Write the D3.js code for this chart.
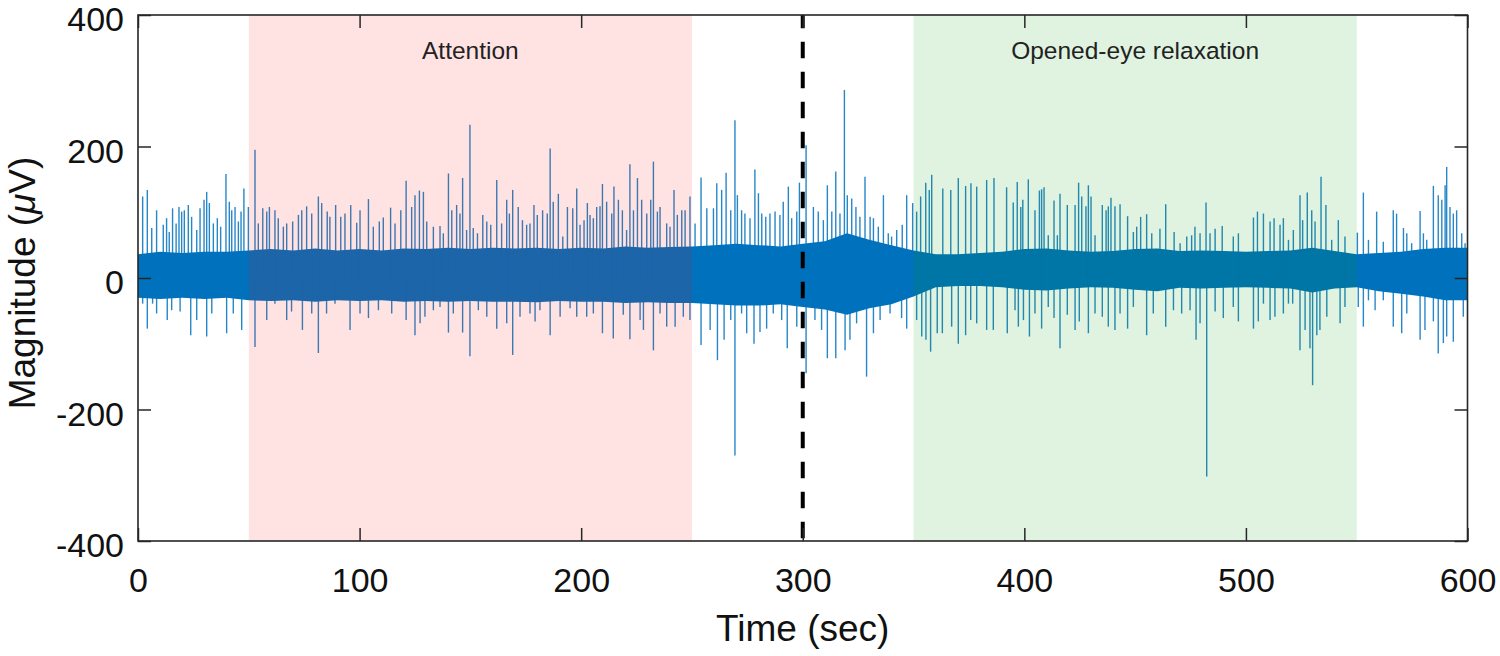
<!DOCTYPE html>
<html>
<head>
<meta charset="utf-8">
<script src="https://cdn.jsdelivr.net/npm/d3@7"></script>
<style>
	html, body { margin: 0; padding: 0; background: #fff; }
	svg { display: block; font-family: "Liberation Sans", Arial, sans-serif; }
</style>
</head>
<body>
<svg id="chart" width="1500" height="656"></svg>
<script>
// Axis ticks
var xTicks = [0, 100, 200, 300, 400, 500, 600];
var yTicks = [-400, -200, 0, 200, 400];

// Shaded task periods (sec)
var periodStart = [50, 350];
var periodEnd = [250, 550];
var periodLabel = ['Attention', 'Opened-eye relaxation'];

// Marker between the two sessions (sec)
var markerTime = 300;

// Dense part of the EEG trace, read every 10 s (µV)
var coreTime = d3.range(0, 601, 10);
var coreHi = [36, 40, 38, 40, 40, 42, 44, 42, 45, 42, 44, 42, 45, 44, 46, 44, 46, 45, 46, 44,
	46, 45, 48, 46, 47, 48, 50, 52, 50, 48, 52, 56, 68, 58, 50, 42, 36, 36, 38, 40,
	44, 45, 42, 40, 41, 44, 45, 41, 42, 41, 40, 41, 42, 46, 41, 36, 38, 40, 44, 46, 46];
var coreLo = [-30, -32, -30, -32, -30, -34, -35, -34, -36, -34, -35, -34, -36, -35, -36, -35, -36, -36, -37, -35,
	-36, -36, -38, -37, -38, -38, -40, -42, -42, -40, -44, -48, -56, -46, -40, -28, -14, -12, -12, -14,
	-18, -19, -16, -14, -15, -18, -20, -15, -16, -15, -14, -15, -16, -22, -16, -14, -20, -24, -28, -34, -34];

// Positive peaks [sec, µV]
var spikeUp = [[2.1, 124], [4.2, 134], [6.2, 76], [8.4, 103], [11.4, 81], [12.9, 91], [14.1, 70], [15.6, 106], [17.2, 83], [18.5, 108], [19.7, 101], [20.9, 103], [22.7, 111], [24.2, 93], [26.5, 73], [28.0, 106], [29.8, 119], [31.0, 131], [32.2, 114], [34.0, 83], [35.8, 91], [37.3, 78], [39.7, 158], [41.2, 116], [42.3, 103], [43.8, 108], [45.3, 86], [46.5, 101], [47.8, 136], [49.8, 108],
	[52.8, 195], [54.3, 83], [56.3, 106], [58.1, 101], [59.3, 108], [61.8, 103], [63.3, 91], [65.6, 78], [67.1, 83], [69.8, 86], [72.4, 96], [73.9, 103], [76.1, 109], [78.4, 98], [81.4, 124], [82.9, 114], [85.4, 101], [86.6, 93], [89.2, 111], [91.5, 93], [93.4, 98], [96.0, 111], [98.7, 84], [100.2, 103], [104.0, 120], [106.2, 78], [108.9, 86], [110.7, 92], [114.0, 107], [116.0, 83], [118.6, 103], [121.0, 148], [123.5, 108], [125.0, 126], [127.0, 133], [128.8, 131], [130.3, 86],
	[133.3, 78], [136.3, 79], [137.8, 68], [140.1, 159], [141.6, 103], [143.8, 111], [145.3, 98], [146.5, 152], [148.3, 73], [149.8, 233], [151.3, 76], [153.2, 68], [155.6, 96], [157.4, 86], [159.2, 81], [161.9, 149], [164.1, 83], [166.4, 119], [167.6, 98], [169.1, 134], [171.6, 108], [173.5, 88], [175.4, 81], [176.9, 83], [178.7, 111], [180.2, 96], [182.6, 103], [184.7, 98], [186.0, 197], [187.4, 116], [189.7, 128], [191.7, 63], [193.8, 108], [196.2, 106], [198.0, 136], [199.5, 81],
	[201.3, 88], [202.8, 114], [204.0, 96], [205.5, 91], [207.0, 108], [208.5, 109], [209.6, 143], [211.5, 116], [213.8, 98], [214.8, 139], [216.8, 119], [218.6, 103], [220.5, 73], [222.0, 173], [223.6, 103], [225.4, 152], [227.3, 119], [229.6, 98], [231.4, 119], [232.6, 177], [234.4, 101], [235.6, 108], [238.6, 83], [240.1, 78], [241.9, 134], [243.4, 96], [245.4, 103], [246.9, 103], [249.1, 124], [251.4, 83], [254.1, 153], [256.7, 106], [259.7, 106], [261.2, 144],
	[263.4, 134], [265.4, 160], [267.5, 103], [269.4, 240], [270.5, 126], [272.4, 103], [273.9, 98], [276.2, 91], [278.4, 165], [280.0, 129], [281.5, 98], [283.3, 93], [285.2, 98], [287.5, 101], [289.7, 96], [291.2, 116], [293.5, 139], [295.0, 91], [297.3, 101], [298.5, 145], [301.5, 202], [304.8, 108], [307.0, 101], [309.3, 88], [311.1, 141], [313.1, 101], [314.9, 162], [316.8, 98], [318.8, 286], [320.1, 126], [322.1, 121], [324.0, 108], [325.8, 93], [328.1, 154], [330.4, 93], [331.9, 91], [334.1, 78], [336.4, 126], [338.6, 68], [340.1, 63], [342.4, 73], [344.9, 81], [346.9, 126], [349.6, 114],
	[351.4, 101], [353.2, 124], [355.5, 145], [357.1, 134], [358.2, 157], [363.2, 136], [366.8, 134], [370.2, 152], [373.5, 140], [375.9, 144], [378.5, 139], [383.0, 149], [386.3, 152], [392.0, 138], [395.0, 115], [396.8, 146], [398.4, 108], [399.3, 119], [401.8, 150], [404.8, 103], [406.8, 133], [407.8, 135], [408.9, 138], [410.8, 65], [413.4, 118], [414.9, 65], [416.1, 128], [419.4, 111], [422.9, 111], [424.5, 145], [425.9, 124], [427.8, 109], [428.9, 141], [430.1, 124], [431.9, 65], [435.2, 111], [436.9, 103], [437.9, 109], [439.1, 122], [440.9, 109], [443.2, 112], [446.6, 94], [449.2, 70],
	[450.7, 78], [452.5, 93], [455.2, 97], [457.5, 68], [461.2, 75], [463.8, 112], [467.6, 70], [470.3, 53], [473.3, 63], [475.5, 65], [477.0, 78], [479.3, 68], [482.0, 115], [483.8, 68], [486.1, 75], [489.3, 79], [494.3, 63], [496.6, 68], [503.4, 92], [505.2, 101], [507.9, 98], [510.9, 86], [512.7, 91], [515.4, 81], [516.9, 91], [519.2, 58], [521.4, 73], [524.4, 126], [525.6, 88], [527.7, 130], [529.7, 103], [531.2, 86], [533.9, 154], [536.1, 111], [538.7, 58], [541.7, 88], [544.7, 63],
	[550.3, 69], [553.0, 130], [555.3, 58], [559.0, 101], [562.0, 55], [566.5, 103], [568.0, 98], [571.1, 76], [572.6, 68], [574.8, 53], [578.6, 102], [580.1, 68], [581.6, 58], [584.6, 140], [586.8, 126], [588.4, 119], [589.9, 141], [590.6, 169], [592.1, 108], [593.6, 98], [595.1, 103], [597.4, 68], [598.9, 53]];

// Negative peaks [sec, µV]
var spikeDown = [[2.1, -39], [4.2, -77], [6.6, -39], [8.4, -54], [13.2, -64], [15.2, -49], [19.0, -51], [23.8, -87], [26.5, -64], [31.0, -89], [33.3, -54], [40.0, -84], [43.0, -54], [46.8, -79], [52.8, -105], [58.1, -64], [61.8, -39], [67.1, -64], [69.3, -51], [74.2, -79], [78.4, -54], [81.4, -114], [85.1, -54], [88.9, -39], [95.7, -79], [100.2, -54], [104.0, -61], [108.5, -49], [114.5, -54], [121.0, -64], [125.0, -87], [127.3, -69], [129.5, -59],
	[133.3, -49], [136.3, -44], [140.1, -83], [142.3, -54], [146.5, -83], [149.8, -119], [153.6, -49], [157.4, -59], [161.9, -77], [166.4, -69], [169.1, -117], [172.4, -59], [176.9, -54], [179.2, -66], [181.4, -49], [186.0, -87], [190.5, -59], [195.0, -46], [198.0, -59], [202.5, -59], [205.5, -54], [209.6, -84], [214.5, -92], [219.0, -56], [222.0, -93], [226.6, -64], [228.1, -79], [232.6, -110], [235.6, -54], [238.6, -74], [242.4, -74], [246.1, -59], [249.1, -64], [254.1, -102], [258.2, -79], [261.5, -125],
	[264.5, -94], [267.5, -64], [269.4, -270], [272.4, -54], [274.7, -84], [278.0, -100], [280.7, -82], [283.7, -77], [286.7, -54], [290.5, -64], [293.0, -107], [297.3, -74], [301.5, -145], [305.5, -64], [308.5, -79], [311.1, -122], [314.9, -122], [319.1, -110], [321.3, -94], [324.3, -69], [328.8, -150], [331.9, -84], [334.9, -64], [339.4, -54], [344.6, -61], [346.9, -77],
	[351.4, -64], [353.7, -89], [355.6, -94], [357.7, -112], [360.7, -84], [363.0, -84], [367.2, -74], [370.2, -100], [373.5, -87], [375.8, -64], [378.5, -69], [383.0, -79], [386.0, -79], [392.3, -84], [395.8, -49], [397.3, -74], [399.6, -64], [402.3, -89], [404.8, -54], [407.8, -77], [410.8, -44], [413.4, -61], [416.1, -107], [419.4, -56], [422.9, -79], [424.8, -66], [428.9, -84], [431.9, -54], [435.2, -59], [437.9, -74], [440.9, -79], [443.2, -54], [446.6, -77], [449.2, -44],
	[455.2, -87], [458.2, -54], [463.8, -74], [467.3, -49], [471.0, -54], [474.8, -49], [477.5, -94], [479.3, -69], [482.3, -302], [486.1, -51], [489.8, -61], [494.3, -44], [496.6, -66], [503.4, -77], [505.6, -66], [507.9, -39], [510.9, -64], [513.1, -59], [516.9, -54], [519.2, -39], [521.1, -39], [524.4, -110], [526.7, -79], [528.9, -107], [530.1, -163], [532.0, -87], [533.4, -79], [536.5, -59], [542.5, -69], [544.7, -44],
	[550.7, -44], [553.0, -74], [555.3, -34], [558.3, -49], [562.0, -34], [566.5, -74], [570.3, -84], [572.6, -54], [578.6, -94], [580.8, -79], [584.6, -66], [586.8, -115], [589.1, -99], [590.6, -89], [593.6, -97], [598.1, -59]];

// Layout
var plot = {left: 138, top: 15, right: 1467.5, bottom: 541},
	tickLen = 13,
	traceColor = '#0072BD',
	axisColor = '#262626',
	periodColor = ['#ff0000', '#009600'],
	periodAlpha = [0.11, 0.12];

var svg = d3.select('#chart');

var x = d3.scaleLinear().domain([0, 600]).range([plot.left, plot.right]);
var y = d3.scaleLinear().domain([-400, 400]).range([plot.bottom, plot.top]);

// Trace: dense band first, then the peaks on top of it
var trace = svg.append('g').attr('class', 'trace');

var core = d3.area()
	.x(function (d, i) { return x(coreTime[i]); })
	.y0(function (d, i) { return y(coreLo[i]); })
	.y1(function (d, i) { return y(coreHi[i]); });

trace.append('path')
	.datum(coreTime)
	.attr('d', core)
	.attr('fill', traceColor);

trace.selectAll('line.peak')
	.data(spikeUp.concat(spikeDown))
	.enter().append('line')
	.attr('class', 'peak')
	.attr('x1', function (d) { return x(d[0]); })
	.attr('x2', function (d) { return x(d[0]); })
	.attr('y1', y(0))
	.attr('y2', function (d) { return y(d[1]); })
	.attr('stroke', traceColor)
	.attr('stroke-opacity', 0.85)
	.attr('stroke-width', 1.4);

// Task periods, drawn translucent over the trace
svg.selectAll('rect.period')
	.data(periodStart)
	.enter().append('rect')
	.attr('class', 'period')
	.attr('x', function (d) { return x(d); })
	.attr('width', function (d, i) { return x(periodEnd[i]) - x(d); })
	.attr('y', y(400))
	.attr('height', y(-400) - y(400))
	.attr('fill', function (d, i) { return periodColor[i]; })
	.attr('fill-opacity', function (d, i) { return periodAlpha[i]; });

svg.selectAll('text.period-label')
	.data(periodLabel)
	.enter().append('text')
	.attr('class', 'period-label')
	.attr('x', function (d, i) { return x((periodStart[i] + periodEnd[i]) / 2); })
	.attr('y', 59)
	.attr('text-anchor', 'middle')
	.attr('font-size', '24.5px')
	.attr('fill', '#222')
	.text(function (d) { return d; });

// Session marker
svg.append('line')
	.attr('x1', x(markerTime))
	.attr('x2', x(markerTime))
	.attr('y1', y(400))
	.attr('y2', y(-400))
	.attr('stroke', '#000')
	.attr('stroke-width', 4)
	.attr('stroke-dasharray', '16.6 13.4')
	.attr('stroke-dashoffset', 3.3);

// Axes: ticks point inward on all four sides
function styleAxis(g) {
	g.select('.domain').remove();
	g.selectAll('.tick line').attr('stroke', axisColor).attr('stroke-width', 1.5);
	g.selectAll('.tick text').attr('fill', '#111').attr('font-size', '34px')
		.attr('font-family', '"Liberation Sans", Arial, sans-serif');
}

svg.append('g')
	.attr('transform', 'translate(0,' + plot.bottom + ')')
	.call(d3.axisBottom(x).tickValues(xTicks).tickSize(-tickLen).tickPadding(27)
		.tickFormat(function (d) { return String(d); }))
	.call(styleAxis);

svg.append('g')
	.attr('transform', 'translate(' + plot.left + ',0)')
	.call(d3.axisLeft(y).tickValues(yTicks).tickSize(-tickLen).tickPadding(14)
		.tickFormat(function (d) { return String(d); }))
	.call(styleAxis)
	.selectAll('.tick text').attr('dy', '0.47em');

svg.append('g')
	.attr('transform', 'translate(0,' + plot.top + ')')
	.call(d3.axisTop(x).tickValues(xTicks).tickSize(-tickLen).tickFormat(''))
	.call(styleAxis);

svg.append('g')
	.attr('transform', 'translate(' + plot.right + ',0)')
	.call(d3.axisRight(y).tickValues(yTicks).tickSize(-tickLen).tickFormat(''))
	.call(styleAxis);

svg.append('rect')
	.attr('x', plot.left)
	.attr('y', plot.top)
	.attr('width', plot.right - plot.left)
	.attr('height', plot.bottom - plot.top)
	.attr('fill', 'none')
	.attr('stroke', axisColor)
	.attr('stroke-width', 1.6);

// Axis titles
svg.append('text')
	.attr('x', (plot.left + plot.right) / 2)
	.attr('y', 641)
	.attr('text-anchor', 'middle')
	.attr('font-size', '37px')
	.attr('fill', '#111')
	.text('Time (sec)');

var yTitle = svg.append('text')
	.attr('transform', 'translate(35,283) rotate(-90)')
	.attr('text-anchor', 'middle')
	.attr('font-size', '37px')
	.attr('fill', '#111');
yTitle.append('tspan').text('Magnitude (');
yTitle.append('tspan').attr('font-style', 'italic').text('\u03BC');
yTitle.append('tspan').text('V)');
</script>
</body>
</html>
